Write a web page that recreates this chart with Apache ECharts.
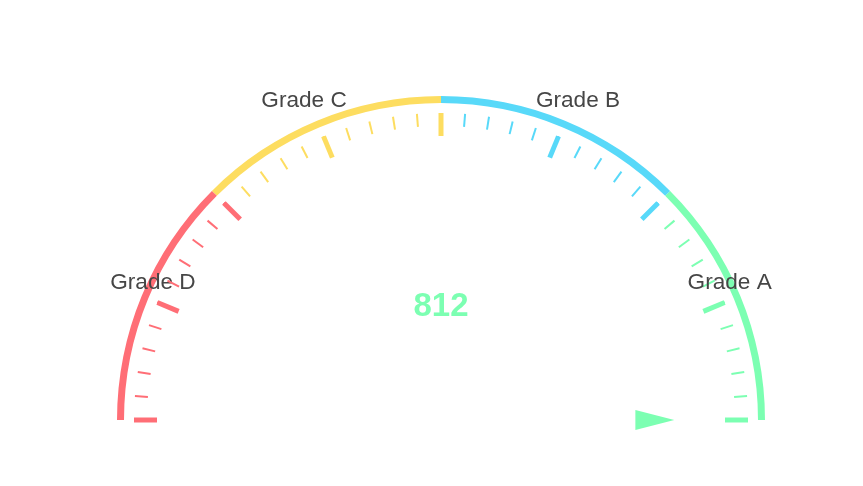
<!DOCTYPE html>
<html>
<head>
<meta charset="utf-8">
<script src="https://cdn.jsdelivr.net/npm/echarts@6/dist/echarts.min.js"></script>
<style>
  html, body { margin: 0; padding: 0; background: #ffffff; }
  #chart { width: 863px; height: 486px; }
</style>
</head>
<body>
<div id="chart"></div>
<script>
// Data
const gradeLabels = ['Grade D', 'Grade C', 'Grade B', 'Grade A'];
const bandStops = [0.25, 0.5, 0.75, 1];
const bandColors = ['#FF6E76', '#FDDD60', '#58D9F9', '#7CFFB2'];
const gaugeValue = [812];
const axisMin = 0;
const axisMax = 100;
const splitCount = 8;

const chart = echarts.init(document.getElementById('chart'));
const FONT = 'Liberation Sans, Arial, sans-serif';

function labelFor(v) {
  const idx = Math.round((v - axisMin) / (axisMax - axisMin) * splitCount);
  if (idx % 2 === 1) {
    return gradeLabels[(idx - 1) / 2] || '';
  }
  return '';
}

const option = {
  backgroundColor: '#ffffff',
  animation: false,
  series: [{
    type: 'gauge',
    startAngle: 180,
    endAngle: 0,
    center: [441, 420],
    radius: 324,
    min: axisMin,
    max: axisMax,
    splitNumber: splitCount,
    axisLine: {
      lineStyle: {
        width: 7,
        color: bandStops.map((s, i) => [s, bandColors[i]])
      }
    },
    pointer: {
      icon: 'path://M12.8,0.7l12,40.1H0.7L12.8,0.7z',
      length: '12%',
      width: 20,
      offsetCenter: [0, '-60%'],
      itemStyle: { color: 'auto' }
    },
    axisTick: {
      length: 13,
      distance: 10,
      lineStyle: { color: 'auto', width: 2 }
    },
    splitLine: {
      length: 23,
      distance: 10,
      lineStyle: { color: 'auto', width: 5 }
    },
    axisLabel: {
      color: '#464646',
      fontSize: 22.6,
      fontFamily: FONT,
      distance: -67,
      formatter: labelFor
    },
    title: { show: false },
    detail: {
      fontSize: 33,
      fontWeight: 'bold',
      fontFamily: FONT,
      offsetCenter: [0, '-35%'],
      color: 'inherit',
      formatter: '{value}'
    },
    data: [{ value: gaugeValue[0], name: '' }]
  }]
};
chart.setOption(option);
</script>
</body>
</html>
